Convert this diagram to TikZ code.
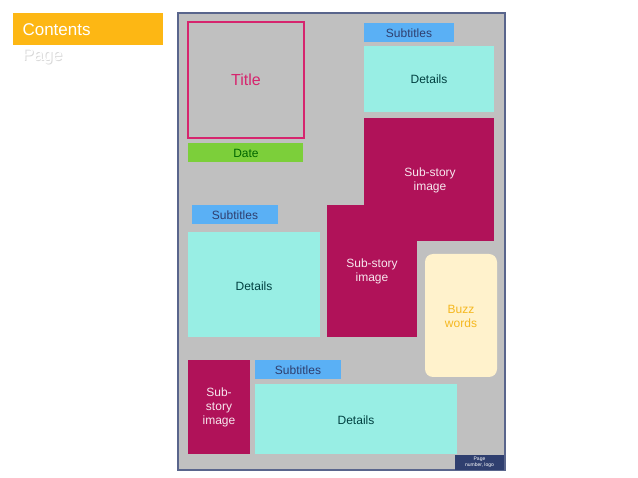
\documentclass[tikz,border=0pt]{standalone}
\usepackage{fontspec}
\setmainfont{Liberation Sans}
\begin{document}
\begin{tikzpicture}[x=1pt,y=-1pt,
  box/.style={draw=none,inner sep=0pt,align=center},
  t/.style={font=\fontsize{12}{14}\selectfont,align=center}]
\definecolor{pg}{HTML}{C0C0C0}
\definecolor{mag}{HTML}{B01259}
\definecolor{tit}{HTML}{D6256E}
\definecolor{grn}{HTML}{7CCF3A}
\definecolor{blu}{HTML}{5AB0F5}
\definecolor{tur}{HTML}{98EEE4}
\definecolor{bz}{HTML}{FFF2CC}
\definecolor{bzt}{HTML}{F5B820}
\definecolor{nav}{HTML}{2F3F6F}
\definecolor{org}{HTML}{FDB714}
\useasboundingbox (0,0) rectangle (638,478);
\fill[org] (13,13) rectangle (163,45);
\node[anchor=west,text=white,font=\fontsize{17}{19}\selectfont] (c) at (19,30) {Contents};
\node[anchor=west,text=gray!30,font=\fontsize{17}{19}\selectfont] at (20,57) {Page};
\node[anchor=west,text=white,font=\fontsize{17}{19}\selectfont] (p) at (19,56) {Page};
\draw[fill=pg,draw=nav!80,line width=1.2] (178,13) rectangle (505,470);
\draw[draw=tit,line width=1.5] (188,22) rectangle (304,138);
\node[text=tit,font=\fontsize{16}{18}\selectfont] (title) at (246,80) {Title};
\fill[grn] (188,143) rectangle (303,162);
\node[t,text=green!40!black] (date) at (246,153) {Date};
\fill[blu] (364,23) rectangle (454,42);
\node[t,text=nav] (s1) at (409,33) {Subtitles};
\fill[tur] (364,46) rectangle (494,112);
\node[t,text=teal!50!black] (d1) at (429,79) {Details};
\fill[mag] (364,118) rectangle (494,241);
\fill[mag] (327,205) rectangle (417,337);
\node[t,text=white!90!mag] (i1) at (430,180) {Sub-story\\image};
\node[t,text=white!90!mag] (i2) at (372,271) {Sub-story\\image};
\fill[blu] (192,205) rectangle (278,224);
\node[t,text=nav] (s2) at (235,215) {Subtitles};
\fill[tur] (188,232) rectangle (320,337);
\node[t,text=teal!50!black] (d2) at (254,286) {Details};
\fill[bz,rounded corners=8] (425,254) rectangle (497,377);
\node[t,text=bzt] (bw) at (461,316) {Buzz\\words};
\fill[mag] (188,360) rectangle (250,454);
\node[t,text=white!90!mag] (i3) at (219,407) {Sub-\\story\\image};
\fill[blu] (255,360) rectangle (341,379);
\node[t,text=nav] (s3) at (298,370) {Subtitles};
\fill[tur] (255,384) rectangle (457,454);
\node[t,text=teal!50!black] (d3) at (356,420) {Details};
\fill[nav] (455,455) rectangle (504,470);
\node[text=white,font=\fontsize{5}{5.5}\selectfont,align=center] (pl) at (479.5,462.5) {Page\\number, logo};
\end{tikzpicture}
\end{document}
